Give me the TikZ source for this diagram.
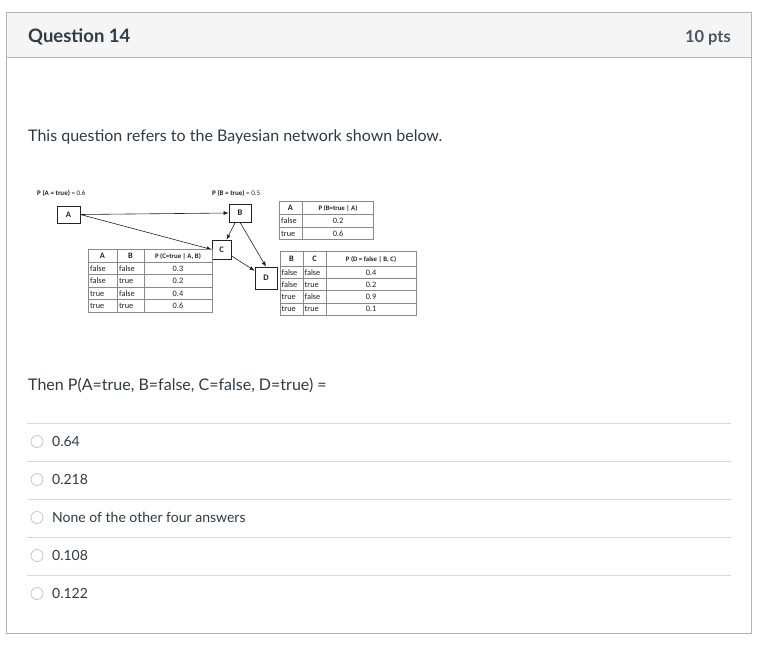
\documentclass[tikz,border=0pt]{standalone}
\usepackage{fontspec}
\setmainfont{Lato}
\newfontfamily\carl{Carlito}
\usetikzlibrary{arrows.meta}
\definecolor{txt}{HTML}{2D3B45}
\definecolor{ptsc}{HTML}{4A5560}
\definecolor{frame}{HTML}{B3B3B3}
\definecolor{hdrbg}{HTML}{F5F5F5}
\definecolor{sepc}{HTML}{D7DADD}
\definecolor{radioc}{HTML}{BFC3C7}
\definecolor{ink}{HTML}{222222}
\definecolor{tabline}{HTML}{8A8A8A}
\begin{document}
\begin{tikzpicture}[x=1pt,y=-1pt,
  lbl/.style={inner sep=0, anchor=base west, text=txt},
  bnbox/.style={draw=ink, line width=0.7pt, fill=white, minimum width=22pt, minimum height=18pt, inner sep=0, font=\carl\bfseries\fontsize{8.5}{9}\selectfont, text=ink},
  edge/.style={draw=ink, line width=0.6pt, -{Latex[length=5pt,width=4pt]}},
  tab/.style={draw=tabline, line width=0.5pt},
  cell/.style={inner sep=0, anchor=base west, font=\carl\fontsize{8.3}{9}\selectfont, text=ink},
  ccell/.style={cell, anchor=base},
  hcell/.style={inner sep=0, anchor=base, font=\carl\bfseries\fontsize{8.3}{9}\selectfont, text=ink},
  phead/.style={inner sep=0, anchor=base, font=\carl\bfseries\fontsize{6.8}{7}\selectfont, text=ink},
  prior/.style={inner sep=0, anchor=base west, font=\carl\fontsize{7}{8}\selectfont, text=ink},
  optline/.style={draw=sepc, line width=0.8pt},
  radiob/.style={draw=radioc, fill=white, circle, minimum size=12pt, inner sep=0, line width=0.7pt}]

\useasboundingbox (0,0) rectangle (765,645);
\fill[white] (0,0) rectangle (765,645);
\fill[hdrbg] (6.5,12.5) rectangle (751,57.5);
\draw[frame, line width=1pt] (6.5,12.5) rectangle (751,633);
\draw[frame, line width=1pt] (6.5,57.5) -- (751,57.5);

% header
\node[lbl, font=\bfseries\fontsize{18.5}{20}\selectfont] (title) at (28,42.5) {Question 14};
\node[lbl, anchor=base east, text=ptsc, font=\bfseries\fontsize{16.5}{18}\selectfont] (pts) at (731,42.5) {10 pts};

% body
\node[lbl, font=\fontsize{16}{19}\selectfont] (intro) at (28,141) {This question refers to the Bayesian network shown below.};
\node[lbl, font=\fontsize{16}{19}\selectfont] (ask) at (28,390.5) {Then P(A=true, B=false, C=false, D=true) =};

% options
\foreach \yl in {423,461.5,499.5,537.5,575.5} \draw[optline] (27,\yl) -- (731,\yl);
\foreach \t/\yc [count=\i] in {0.64/441.5, 0.218/479.5, None of the other four answers/517.5, 0.108/555.5, 0.122/593.5} {
  \node[radiob] (r\i) at (37,\yc) {};
  \node[lbl, font=\fontsize{14}{16}\selectfont] (o\i) at (52,\yc+4.7) {\t};
}

% priors
\node[prior] (pa) at (37,195.5) {\textbf{P (A = true)} = 0.6};
\node[prior] (pb) at (212,195.5) {\textbf{P (B = true)} = 0.5};

% network
\node[bnbox, minimum width=23pt, minimum height=17pt] (A) at (68.5,214.5) {A};
\node[bnbox] (B) at (240,213) {B};
\node[bnbox, minimum width=19pt, minimum height=19pt] (C) at (221.5,249.5) {C};
\node[bnbox, minimum height=22pt] (D) at (266,278) {D};

\draw[edge] (A.east) -- (B.west);
\draw[edge] (A.east) -- (C.west);
\draw[edge] (B) -- (C);
\draw[edge] (B.south) -- (D.north);
\draw[edge] (C) -- (D);

% table C
\draw[tab] (88,249) rectangle (212,312);
\foreach \yy in {262,274.5,287,299.5} \draw[tab] (88,\yy) -- (212,\yy);
\foreach \xx in {117,144} \draw[tab] (\xx,249) -- (\xx,312);
\node[hcell] (ch1) at (102.5,258.5) {A};
\node[hcell] (ch2) at (130.5,258.5) {B};
\node[phead] (ch3) at (178,258) {P (C=true | A, B)};
\foreach \a/\b/\p [count=\i] in {false/false/0.3,false/true/0.2,true/false/0.4,true/true/0.6} {
  \pgfmathsetmacro\yb{262+12.5*\i-6.25+2.9}
  \node[cell] (ca\i) at (90,\yb) {\a};
  \node[cell] (cb\i) at (119,\yb) {\b};
  \node[ccell] (cp\i) at (178,\yb) {\p};
}

% table B
\draw[tab] (279,201) rectangle (373,239.5);
\foreach \yy in {214,227} \draw[tab] (279,\yy) -- (373,\yy);
\draw[tab] (302,201) -- (302,239.5);
\node[hcell] (bh1) at (290.5,210.5) {A};
\node[phead] (bh2) at (338,210) {P (B=true | A)};
\foreach \a/\p [count=\i] in {false/0.2,true/0.6} {
  \pgfmathsetmacro\yb{214+12.75*\i-6.4+2.9}
  \node[cell] (ba\i) at (281,\yb) {\a};
  \node[ccell] (bp\i) at (338,\yb) {\p};
}

% table D
\draw[tab] (280,251) rectangle (416,315.2);
\foreach \yy in {266,278.3,290.6,302.9} \draw[tab] (280,\yy) -- (416,\yy);
\foreach \xx in {303,326} \draw[tab] (\xx,251) -- (\xx,315.2);
\node[hcell] (dh1) at (291.5,261.5) {B};
\node[hcell] (dh2) at (314.5,261.5) {C};
\node[phead] (dh3) at (371,261) {P (D = false | B, C)};
\foreach \a/\b/\p [count=\i] in {false/false/0.4,false/true/0.2,true/false/0.9,true/true/0.1} {
  \pgfmathsetmacro\yb{266+12.3*\i-6.15+2.9}
  \node[cell] (da\i) at (281.5,\yb) {\a};
  \node[cell] (db\i) at (304.5,\yb) {\b};
  \node[ccell] (dp\i) at (371,\yb) {\p};
}
\end{tikzpicture}
\end{document}
